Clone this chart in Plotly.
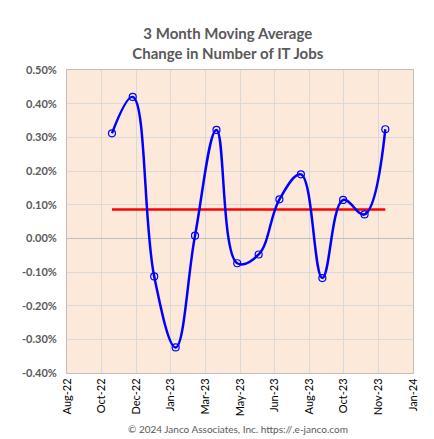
import plotly.graph_objects as go

# month-end dates of the 3 month moving average
months = ["2022-10-31", "2022-11-30", "2022-12-31", "2023-01-31", "2023-02-28",
          "2023-03-31", "2023-04-30", "2023-05-31", "2023-06-30", "2023-07-31",
          "2023-08-31", "2023-09-30", "2023-10-31", "2023-11-30"]
change_pct = [0.312, 0.420, -0.113, -0.324, 0.008, 0.322, -0.074, -0.048,
              0.116, 0.190, -0.118, 0.114, 0.071, 0.324]
avg_pct = sum(change_pct) / len(change_pct)

y_ticks = [0.5, 0.4, 0.3, 0.2, 0.1, 0.0, -0.1, -0.2, -0.3, -0.4]
y_tick_text = ["%.2f%%" % v for v in y_ticks]

fig = go.Figure()
fig.add_trace(go.Scatter(x=[months[0], months[-1]], y=[avg_pct, avg_pct],
                         mode="lines", line=dict(color="#FF0000", width=2.5),
                         hoverinfo="skip"))
fig.add_trace(go.Scatter(x=months, y=change_pct, mode="lines+markers",
                         line=dict(color="#0000FF", width=2.5, shape="spline", smoothing=1.1),
                         marker=dict(symbol="circle-open", size=7, color="#0000FF",
                                     line=dict(width=1.2))))

# page body has an 8px margin, so the figure is 8px smaller than the window
fig.update_layout(
    width=426, height=431,
    margin=dict(l=59, r=21, t=62, b=66),
    paper_bgcolor="white",
    plot_bgcolor="#FCE9DA",
    showlegend=False,
    font=dict(family="Lato, Carlito, Arial", size=10, color="#595959"),
    title=dict(text="<b>3 Month Moving Average<br>Change in Number of IT Jobs</b>",
               x=0.516, xanchor="center", y=0.928, yanchor="middle",
               font=dict(size=15, color="#595959")),
)
fig.update_xaxes(
    type="date",
    range=["2022-08-27", "2024-01-09"],
    tick0="2022-08-27", dtick=50 * 86400000,
    tickformat="%b-%y", tickangle=-90,
    tickfont=dict(color="#000000", size=11),
    showgrid=True, gridcolor="#D9D9D9", gridwidth=1,
    showline=True, linecolor="#BFBFBF", mirror=True,
    ticks="", zeroline=False, automargin=False,
)
fig.update_yaxes(
    range=[-0.4, 0.5],
    tickvals=y_ticks, ticktext=y_tick_text,
    tickfont=dict(color="#595959", size=11, weight="bold"),
    ticklabelstandoff=7,
    showgrid=True, gridcolor="#D9D9D9", gridwidth=1,
    showline=True, linecolor="#BFBFBF", mirror=True,
    zeroline=True, zerolinecolor="#BFBFBF", zerolinewidth=1,
    ticks="", automargin=False,
)
fig.add_annotation(text="© 2024 Janco Associates, Inc. https://.e-janco.com",
                   xref="paper", yref="paper", x=0.494, y=-0.185,
                   xanchor="center", yanchor="middle", showarrow=False,
                   font=dict(size=10, color="#595959"))

fig.write_html("out.html")
